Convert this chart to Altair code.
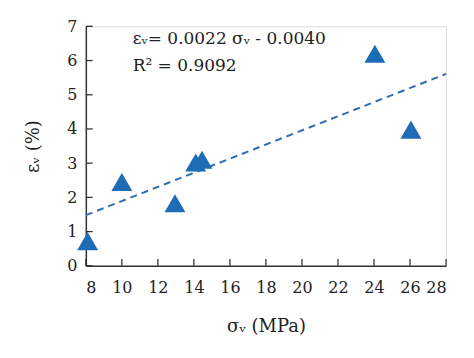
import altair as alt
import pandas as pd

sigma = [8.1, 10.0, 12.95, 14.1, 14.45, 24.05, 26.05]
eps = [0.72, 2.45, 1.83, 3.02, 3.1, 6.2, 3.98]
fit_x = [8, 28]
fit_y = [1.48, 5.61]
x_ticks = [8, 10, 12, 14, 16, 18, 20, 22, 24, 26, 28]
y_ticks = [0, 1, 2, 3, 4, 5, 6, 7]
eq_lines = ["εᵥ= 0.0022 σᵥ - 0.0040", "R² = 0.9092"]
eq_y = [6.62, 5.85]

pts = pd.DataFrame({"s": sigma, "e": eps})
fit = pd.DataFrame({"s": fit_x, "e": fit_y})
xt = pd.DataFrame({"s": x_ticks, "e": [0] * len(x_ticks), "e1": [0.2] * len(x_ticks)})
yt = pd.DataFrame({"e": y_ticks, "s": [8] * len(y_ticks), "s1": [8.38] * len(y_ticks)})
eq = pd.DataFrame({"t": eq_lines, "e": eq_y, "s": [10.6, 10.6]})

FONT = "DejaVu Serif"
xs = alt.Scale(domain=[8, 28], nice=False)
ys = alt.Scale(domain=[0, 7], nice=False)

xaxis = alt.Axis(values=x_ticks, ticks=False, tickSize=0, grid=False, labelFont=FONT,
                 labelFontSize=16, labelColor="#222", labelPadding=14, labelOverlap=False,
                 domainColor="#333", domainWidth=1.5, title="σᵥ (MPa)",
                 titleFont=FONT, titleFontSize=18, titleFontWeight="normal",
                 titleColor="#222", titlePadding=22)
yaxis = alt.Axis(values=y_ticks, ticks=False, tickSize=0, grid=False, labelFont=FONT,
                 labelFontSize=16, labelColor="#222", labelPadding=9, labelOverlap=False,
                 domainColor="#333", domainWidth=1.5, title="εᵥ (%)",
                 titleFont=FONT, titleFontSize=18, titleFontWeight="normal",
                 titleColor="#222", titlePadding=24)

X = alt.X("s:Q", scale=xs, axis=xaxis)
Y = alt.Y("e:Q", scale=ys, axis=yaxis)

line = alt.Chart(fit).mark_line(color="#2f6db3", strokeDash=[7, 5], strokeWidth=2).encode(x=X, y=Y)
points = alt.Chart(pts).mark_point(shape="triangle-up", filled=True, size=440,
                                   color="#1e6cb6", opacity=1).encode(x=X, y=Y)
xtick = alt.Chart(xt).mark_rule(color="#333", strokeWidth=1.3).encode(x=X, y=Y, y2="e1:Q")
ytick = alt.Chart(yt).mark_rule(color="#333", strokeWidth=1.3).encode(x=X, x2="s1:Q", y=Y)
text = alt.Chart(eq).mark_text(align="left", baseline="middle", font=FONT, fontSize=17,
                               color="#222").encode(x=X, y=Y, text="t:N")

chart = alt.layer(line, xtick, ytick, points, text).properties(
    width=361, height=240,
    autosize=alt.AutoSizeParams(type="none"),
    padding={"left": 78, "top": 18, "right": 20, "bottom": 80},
).configure_view(stroke=None).configure(background="white")

chart.save("out.html", embed_options={"renderer": "svg", "actions": False})
